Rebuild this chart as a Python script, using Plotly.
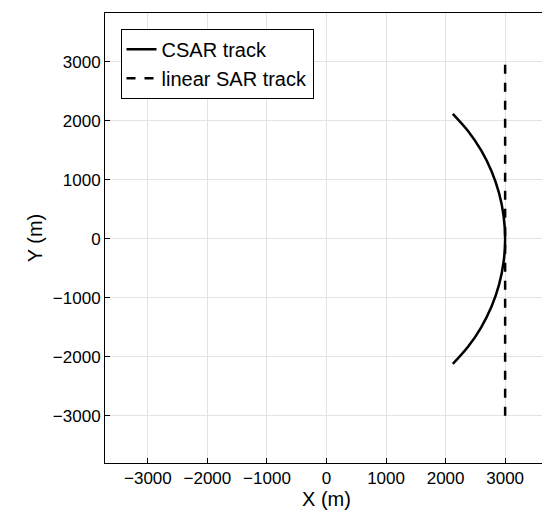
import plotly.graph_objects as go

csar_x = [2121, 2380, 2598, 2772, 2898, 2974, 3000, 2974, 2898, 2772, 2598, 2380, 2121]
csar_y = [-2121, -1826, -1500, -1148, -776, -392, 0, 392, 776, 1148, 1500, 1826, 2121]
lin_x = [3000, 3000]
lin_y = [-3000, 3000]
ticks = [-3000, -2000, -1000, 0, 1000, 2000, 3000]

fig = go.Figure()
fig.add_trace(go.Scatter(x=csar_x, y=csar_y, mode="lines", name="CSAR track",
                         line=dict(color="black", width=2.5, shape="spline")))
fig.add_trace(go.Scatter(x=lin_x, y=lin_y, mode="lines", name="linear SAR track",
                         line=dict(color="black", width=2.5, dash="dash")))
ax = dict(tickvals=ticks, showgrid=True, gridcolor="#e3e3e3", zeroline=False,
          showline=True, linecolor="black", linewidth=1, mirror=True, ticks="inside",
          ticklen=5, tickcolor="black", tickfont=dict(size=17, color="black"))
fig.update_layout(
    width=550, height=523, margin=dict(l=97, r=10, t=5, b=68),
    paper_bgcolor="white", plot_bgcolor="white",
    font=dict(family="Liberation Sans, Arial", color="black"),
    xaxis=dict(ax, range=[-3720, 3720], title=dict(text="X (m)", font=dict(size=20), standoff=4)),
    yaxis=dict(ax, range=[-3800, 3830], title=dict(text="Y (m)", font=dict(size=20), standoff=4)),
    legend=dict(x=0.035, y=0.965, xanchor="left", yanchor="top", bgcolor="white",
                bordercolor="black", borderwidth=1, font=dict(size=20)),
)
fig.write_html("out.html")
